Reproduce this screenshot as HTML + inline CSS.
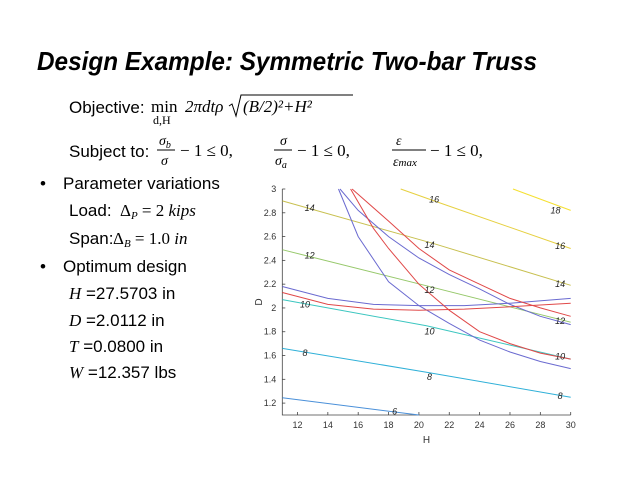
<!DOCTYPE html>
<html><head><meta charset="utf-8"><style>
html,body{margin:0;padding:0;background:#fff;}
svg{display:block;}
.t{font-family:"Liberation Sans",sans-serif;font-size:17px;fill:#000;}
.m{font-family:"Liberation Serif",serif;font-size:17px;fill:#000;}
.mi{font-family:"Liberation Serif",serif;font-style:italic;font-size:17px;fill:#000;}
.tk{font-family:"Liberation Sans",sans-serif;font-size:9px;fill:#333;}
.cl{font-family:"Liberation Sans",sans-serif;font-style:italic;font-size:9px;fill:#222;}
</style></head><body>
<svg id="s" width="638" height="478" viewBox="0 0 638 478">
<text x="37" y="70" textLength="500" lengthAdjust="spacingAndGlyphs" style="font-family:'Liberation Sans',sans-serif;font-weight:bold;font-style:italic;font-size:26px">Design Example: Symmetric Two-bar Truss</text>
<g>
<text class="t" x="69" y="113">Objective:</text>
<text class="m" x="151" y="112">min</text>
<text class="m" x="153" y="124" style="font-size:12px">d,H</text>
<text class="mi" x="185" y="112">2πdtρ</text>
<path d="M229,106 l3,-2 l4,12 l5,-21 h112" fill="none" stroke="#000" stroke-width="1"/>
<text class="mi" x="243" y="112">(B/2)²+H²</text>
</g>
<g>
<text class="t" x="69" y="157">Subject to:</text>
<text class="mi" x="159" y="145" style="font-size:14px">σ<tspan style="font-size:10px" dy="3">b</tspan></text>
<line x1="157" y1="150" x2="175" y2="150" stroke="#000"/>
<text class="mi" x="161" y="165" style="font-size:14px">σ</text>
<text class="m" x="180" y="156">− 1 ≤ 0,</text>
<text class="mi" x="280" y="145" style="font-size:14px">σ</text>
<line x1="274" y1="150" x2="292" y2="150" stroke="#000"/>
<text class="mi" x="275" y="165" style="font-size:14px">σ<tspan style="font-size:10px" dy="3">a</tspan></text>
<text class="m" x="297" y="156">− 1 ≤ 0,</text>
<text class="mi" x="396" y="145" style="font-size:14px">ε</text>
<line x1="392" y1="150" x2="426" y2="150" stroke="#000"/>
<text class="mi" x="393" y="166" style="font-size:14px">ε<tspan style="font-size:11px">max</tspan></text>
<text class="m" x="430" y="156">− 1 ≤ 0,</text>
</g>
<g>
<text class="t" x="40" y="189">•</text><text class="t" x="63" y="189">Parameter variations</text>
<text class="t" x="69" y="216">Load:</text><text class="m" x="120" y="216">Δ<tspan class="mi" style="font-size:11px" dy="3">P</tspan><tspan dy="-3"> = 2 </tspan><tspan class="mi">kips</tspan></text>
<text class="t" x="69" y="244">Span:</text><text class="m" x="113" y="244">Δ<tspan class="mi" style="font-size:11px" dy="3">B</tspan><tspan dy="-3"> = 1.0 </tspan><tspan class="mi">in</tspan></text>
<text class="t" x="40" y="272">•</text><text class="t" x="63" y="272">Optimum design</text>
<text class="t" x="69" y="299"><tspan class="mi">H</tspan> =27.5703 in</text>
<text class="t" x="69" y="326"><tspan class="mi">D</tspan> =2.0112 in</text>
<text class="t" x="69" y="352"><tspan class="mi">T</tspan> =0.0800 in</text>
<text class="t" x="69" y="378"><tspan class="mi">W</tspan> =12.357 lbs</text>
</g>
<g id="chart"></g>
</svg>
<script>
const xTicks=[12,14,16,18,20,22,24,26,28,30];
const yTicks=[1.2,1.4,1.6,1.8,2,2.2,2.4,2.6,2.8,3];
const contourLevels=[6,8,10,12,14,16,18];
const contour6=[[11,1.245],[20,1.1]];
const contour8=[[11,1.66],[20.5,1.46],[30,1.25]];
const contour10=[[11,2.07],[20.5,1.85],[30,1.57]];
const contour12=[[11,2.49],[21,2.17],[30,1.88]];
const contour14=[[11,2.9],[21,2.54],[30,2.19]];
const contour16=[[18.8,3],[21,2.9],[30,2.5]];
const contour18=[[26.2,3],[30,2.82]];
const contourLabelPos=[[18.4,1.13],[12.5,1.62],[12.5,2.03],[12.8,2.44],[12.8,2.84],[21,2.91],[29,2.82]];
const extraLabels=[[10,20.7,1.8],[10,29.3,1.59],[8,20.7,1.42],[8,29.3,1.26],[12,20.7,2.15],[12,29.3,1.89],[14,20.7,2.53],[14,29.3,2.2],[16,29.3,2.52]];
const blueSteep=[[14.7,3],[16,2.6],[18,2.22],[20,2.02],[22,1.87],[24,1.73],[26,1.63],[28,1.55],[30,1.49]];
const blueMid=[[14.8,3],[16,2.82],[18,2.6],[20,2.42],[22,2.28],[24,2.16],[26,2.03],[28,1.93],[30,1.86]];
const redSteep=[[15.5,3],[17,2.67],[18,2.5],[20,2.2],[22,1.98],[24,1.8],[26,1.7],[28,1.62],[30,1.57]];
const redMid=[[15.6,3],[18,2.73],[20,2.5],[22,2.32],[24,2.2],[26,2.08],[28,2.0],[30,1.93]];
const blueFlat=[[11,2.18],[14,2.08],[17,2.03],[20,2.02],[23,2.02],[26,2.04],[30,2.08]];
const redFlat=[[11,2.13],[14,2.03],[17,1.99],[20,1.98],[23,1.99],[26,2.01],[30,2.04]];
const NS='http://www.w3.org/2000/svg';
const X0=282.3,X1=570.7,Y0=415,Y1=189,xmin=11,xmax=30,ymin=1.1,ymax=3;
const sx=v=>X0+(v-xmin)/(xmax-xmin)*(X1-X0);
const sy=v=>Y0-(v-ymin)/(ymax-ymin)*(Y0-Y1);
const g=document.getElementById('chart');
function mk(t,a){const e=document.createElementNS(NS,t);for(const k in a)e.setAttribute(k,a[k]);g.appendChild(e);return e;}
const ax=mk('path',{d:`M${X0},${Y1}V${Y0}H${X1}`,fill:'none',stroke:'#444','stroke-width':0.8});


xTicks.forEach(v=>{mk('line',{x1:sx(v),x2:sx(v),y1:Y0,y2:Y0-3,stroke:'#444','stroke-width':0.8});
const t=mk('text',{x:sx(v),y:Y0+13,class:'tk','text-anchor':'middle'});t.textContent=v;

});
yTicks.forEach(v=>{mk('line',{x1:X0,x2:X0+3,y1:sy(v),y2:sy(v),stroke:'#444','stroke-width':0.8});
const t=mk('text',{x:X0-6,y:sy(v)+3,class:'tk','text-anchor':'end'});t.textContent=v;

});
const xt=mk('text',{x:(X0+X1)/2,y:443,class:'tk','text-anchor':'middle',style:'font-size:10px'});xt.textContent='H';


const yt=mk('text',{x:0,y:0,class:'tk','text-anchor':'middle',style:'font-size:10px',transform:`translate(262,${sy(2.05)}) rotate(-90)`});yt.textContent='D';


function line(pts,col,name){const d=pts.map((p,i)=>(i?'L':'M')+sx(p[0]).toFixed(1)+','+sy(p[1]).toFixed(1)).join('');
const p=mk('path',{d,fill:'none',stroke:col,'stroke-width':1});

}
const contours=[contour6,contour8,contour10,contour12,contour14,contour16,contour18];
const cols=['#4a90d9','#2fb0d8','#3cc6c0','#96c86a','#c8c050','#e6d040','#f5e030'];
contours.forEach((c,i)=>line(c,cols[i],'contour-'+contourLevels[i]));
line(blueSteep,'#6a6ad0','constraint-blue-steep');
line(blueMid,'#6a6ad0','constraint-blue-mid');
line(blueFlat,'#6a6ad0','constraint-blue-flat');
line(redSteep,'#e04848','constraint-red-steep');
line(redMid,'#e04848','constraint-red-mid');
line(redFlat,'#e04848','constraint-red-flat');
function lab(v,h,d){const t=mk('text',{x:sx(h),y:sy(d)+3,class:'cl','text-anchor':'middle'});t.textContent=v;

}
contourLevels.forEach((v,i)=>lab(v,contourLabelPos[i][0],contourLabelPos[i][1]));
extraLabels.forEach(e=>lab(e[0],e[1],e[2]));
</script>
</body></html>
